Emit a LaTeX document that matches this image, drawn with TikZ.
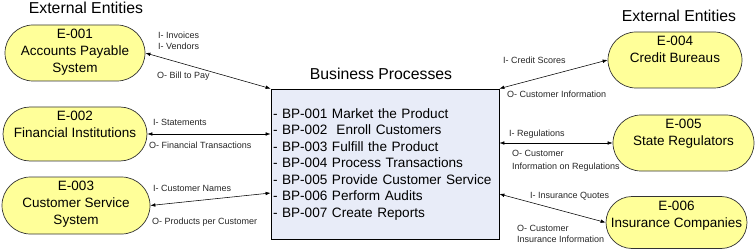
\documentclass[tikz,border=0pt]{standalone}
\usepackage{fontspec}
\setmainfont{Liberation Sans}
\usetikzlibrary{arrows.meta}
\definecolor{entfill}{RGB}{255,255,153}
\definecolor{bpfill}{RGB}{232,236,248}
\newcommand{\etext}[2]{\parbox[c][#1][t]{132pt}{\centering\fontsize{13.5}{17}\selectfont #2}}
\begin{document}
\begin{tikzpicture}[x=1pt,y=-1pt,
  entity/.style 2 args={draw=black!80, fill=entfill, line width=0.7pt,
    minimum height=#1, minimum width=#2, rounded corners={#1/2}, inner sep=0pt},
  flow/.style={{Latex[length=5pt,width=3.6pt]}-{Latex[length=5pt,width=3.6pt]}, line width=0.55pt, black},
  lbl/.style={font=\fontsize{9}{10.5}\selectfont, text=black!85, anchor=west, inner sep=0pt,
    text height=7pt, text depth=1pt},
  heading/.style={font=\fontsize{15.8}{19}\selectfont, inner sep=0pt}]
\useasboundingbox (0,0) rectangle (755,251);

% headings
\node[heading] (t1) at (86,8) {External Entities};
\node[heading] (t2) at (679,16) {External Entities};
\node[heading] (t3) at (381,74) {Business Processes};

% business process box
\node[draw=black, line width=0.8pt, fill=bpfill, minimum width=228pt, minimum height=150pt,
  text width=224pt, inner xsep=2pt, inner ysep=0pt, align=left,
  font=\fontsize{13.6}{16.5}\selectfont] (bp) at (385,164)
  {- BP-001 Market the Product\\
   - BP-002\ \ Enroll Customers\\
   - BP-003 Fulfill the Product\\
   - BP-004 Process Transactions\\
   - BP-005 Provide Customer Service\\
   - BP-006 Perform Audits\\
   - BP-007 Create Reports};

% entities
\node[entity={56pt}{140pt}] (e1) at (75,53)    {\etext{47.6pt}{E-001\\Accounts Payable\\System}};
\node[entity={54pt}{144pt}] (e2) at (75,134)   {\etext{45.6pt}{E-002\\Financial Institutions}};
\node[entity={57pt}{148pt}] (e3) at (76,205.5) {\etext{48.6pt}{E-003\\Customer Service\\System}};
\node[entity={56pt}{134pt}] (e4) at (675,60)   {\etext{47.6pt}{E-004\\Credit Bureaus}};
\node[entity={56pt}{141pt}] (e5) at (683.5,143){\etext{47.6pt}{E-005\\State Regulators}};
\node[entity={52pt}{141pt}] (e6) at (676.5,222.5){\etext{43.6pt}{E-006\\Insurance Companies}};

% connectors
\coordinate (y3) at (0,193);
\coordinate (y6) at (0,194);
\coordinate (p3) at (bp.west |- y3);
\coordinate (p6) at (bp.east |- y6);
\draw[flow] (e1.east) -- (bp.north west);
\draw[flow] (e2.east) -- (e2.east -| bp.west);
\draw[flow] (e3.east) -- (p3);
\draw[flow] (e4.west) -- (bp.north east);
\draw[flow] (e5.west) -- (e5.west -| bp.east);
\draw[flow] (e6.west) -- (p6);

% labels
\node[lbl] (l1)  at (158,36)  {I- Invoices};
\node[lbl] (l2)  at (158,47)  {I- Vendors};
\node[lbl] (l3)  at (157,76)  {O- Bill to Pay};
\node[lbl] (l4)  at (153,123) {I- Statements};
\node[lbl] (l5)  at (149,146) {O- Financial Transactions};
\node[lbl] (l6)  at (153,188) {I- Customer Names};
\node[lbl] (l7)  at (152,221) {O- Products per Customer};
\node[lbl] (l8)  at (503,61)  {I- Credit Scores};
\node[lbl] (l9)  at (507,95)  {O- Customer Information};
\node[lbl] (l10) at (509,134) {I- Regulations};
\node[lbl] (l11) at (512,154) {O- Customer};
\node[lbl] (l12) at (512,167) {Information on Regulations};
\node[lbl] (l13) at (530,195) {I- Insurance Quotes};
\node[lbl] (l14) at (517,228) {O- Customer};
\node[lbl] (l15) at (517,239) {Insurance Information};
\end{tikzpicture}
\end{document}
